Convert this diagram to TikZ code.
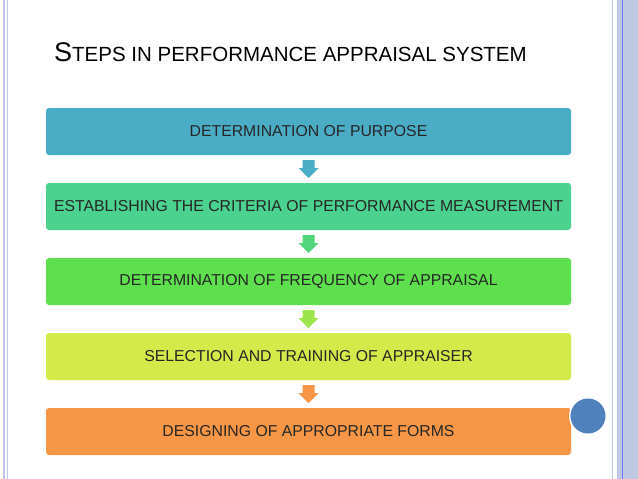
\documentclass[tikz,border=0pt]{standalone}
\usepackage{fontspec}
\setmainfont{Liberation Sans}
\usetikzlibrary{calc}
\definecolor{c1}{HTML}{4BACC6}
\definecolor{c2}{HTML}{4BD28E}
\definecolor{c3}{HTML}{5EE04E}
\definecolor{c4}{HTML}{D4EA4A}
\definecolor{c5}{HTML}{F79646}
\definecolor{c34}{HTML}{9DE54C}
\definecolor{bord}{HTML}{BCC8E2}
\definecolor{dotc}{HTML}{4F81BD}
\begin{document}
\begin{tikzpicture}[x=1pt,y=-1pt,
 stepbox/.style={rounded corners=3pt,minimum width=525pt,minimum height=47pt,inner sep=0pt,font=\fontsize{15.8}{18}\selectfont,text=black!85}]
\newcommand\dnarrow[2]{\fill[#2] ($(#1)+(-6,-9)$) -- ++(12,0) -- ++(0,8) -- ++(4,0) -- ($(#1)+(0,9)$) -- ($(#1)+(-10,-1)$) -- ++(4,0) -- cycle;}
\useasboundingbox (0,0) rectangle (638,479);
\fill[white] (0,0) rectangle (638,479);
\draw[bord,line width=1.5pt] (4,0)--(4,479);
\draw[bord,line width=1pt] (7.5,0)--(7.5,479);
\draw[bord,line width=1pt] (612,0)--(612,479);
\fill[bord] (617,0) rectangle (638,479);
\draw[blue!40!bord,line width=0.6pt] (622,0)--(622,479);
\node[anchor=west,font=\fontsize{20.5}{24}\selectfont,inner sep=0pt] (title) at (54,52) {{\fontsize{27}{30}\selectfont S}TEPS IN PERFORMANCE APPRAISAL SYSTEM};
\node[stepbox,fill=c1] (b1) at (308.5,131.5) {DETERMINATION OF PURPOSE};
\node[stepbox,fill=c2] (b2) at (308.5,206.5) {ESTABLISHING THE CRITERIA OF PERFORMANCE MEASUREMENT};
\node[stepbox,fill=c3] (b3) at (308.5,281.5) {DETERMINATION OF FREQUENCY OF APPRAISAL};
\node[stepbox,fill=c4] (b4) at (308.5,356.5) {SELECTION AND TRAINING OF APPRAISER};
\node[stepbox,fill=c5] (b5) at (308.5,431.5) {DESIGNING OF APPROPRIATE FORMS};
\coordinate (a1) at ($(b1.south)!0.5!(b2.north)$);
\coordinate (a2) at ($(b2.south)!0.5!(b3.north)$);
\coordinate (a3) at ($(b3.south)!0.5!(b4.north)$);
\coordinate (a4) at ($(b4.south)!0.5!(b5.north)$);
\dnarrow{a1}{c1}
\dnarrow{a2}{c2!70!c3}
\dnarrow{a3}{c34}
\dnarrow{a4}{c5}
\fill[white] (588,416) circle (19);
\node[circle,fill=dotc,minimum size=35pt,inner sep=0pt] (dot) at (588,416) {};
\end{tikzpicture}
\end{document}
